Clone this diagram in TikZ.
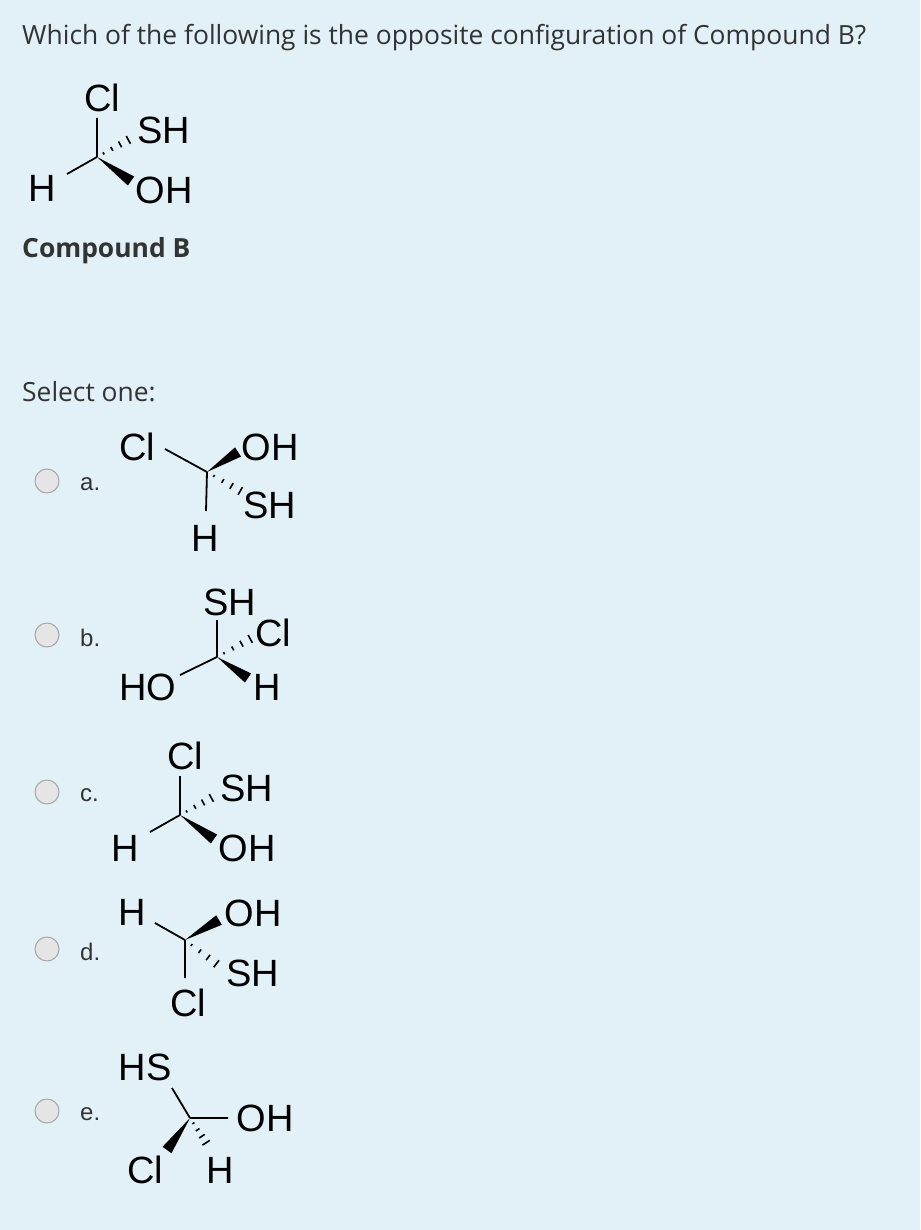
\documentclass[tikz,border=0pt]{standalone}
\usepackage{fontspec}
\setmainfont{Open Sans}
\newfontfamily\arial{Liberation Sans}
\usetikzlibrary{calc}
\definecolor{bg}{HTML}{E1F1F7}
\definecolor{tx}{HTML}{333333}
\newcommand\wdg[2]{\fill ($(#1)$) -- ($(#2)!5.5pt!90:(#1)$) -- ($(#2)!5.5pt!-90:(#1)$) -- cycle;}
\newcommand\hsh[2]{\foreach \t/\w in {0.2/1.2,0.45/2.2,0.7/3.3,0.95/4.4}{\draw[line width=1.6pt] ($(#1)!\t!(#2)!\w pt!90:(#2)$) -- ($(#1)!\t!(#2)!\w pt!-90:(#2)$);}}
\begin{document}
\begin{tikzpicture}[x=1pt,y=-1pt,
  lab/.style={font=\arial\fontsize{38}{38}\selectfont,inner sep=0pt,text=black},
  q/.style={font=\fontsize{26.4}{30}\selectfont,text=tx,anchor=west,inner sep=0pt},
  opt/.style={font=\arial\fontsize{24}{26}\selectfont,text=tx,anchor=west,inner sep=0pt},
  radio/.style={circle,draw=gray!70,fill=gray!20,line width=1pt,minimum size=24pt,inner sep=0pt},
  bond/.style={line width=1.8pt}]
\fill[bg] (0,0) rectangle (920,1230);
\useasboundingbox (0,0) rectangle (920,1230);
\node[q] (qt) at (22,38) {Which of the following is the opposite configuration of Compound B?};
\node[q,font=\bfseries\fontsize{26.4}{30}\selectfont] (cb) at (22,251) {Compound B};
\node[q] (sel) at (22,392) {Select one:};
% Compound B
\coordinate (B) at (97,157);
\node[lab] (bcl) at (102,98) {Cl};
\node[lab] (bsh) at (164,130) {SH};
\node[lab] (bh) at (42,188) {H};
\node[lab] (boh) at (164,190) {OH};
\draw[bond] (B) -- (97,118) (B) -- (67,174);
\hsh{B}{130,139}
\wdg{B}{131,181}
% radios
\foreach \n/\y/\l in {ra/481/a.,rb/635/b.,rc/792/c.,rd/949/d.,re/1111/e.}{
  \node[radio] (\n) at (47,\y) {};
  \node[opt] (\n l) at (80,\y+3) {\l};}
% a
\coordinate (A) at (207,472);
\node[lab] (acl) at (137,447) {Cl};
\node[lab] (aoh) at (270,447) {OH};
\node[lab] (ash) at (270,505) {SH};
\node[lab] (ah) at (205,538) {H};
\draw[bond] (A) -- (165,449) (A) -- (206,511);
\wdg{A}{238,452}
\hsh{A}{242,492}
% b
\coordinate (Bb) at (217,657);
\node[lab] (bbsh) at (230,602) {SH};
\node[lab] (bbcl) at (273,633) {Cl};
\node[lab] (bbho) at (148,687) {HO};
\node[lab] (bbh) at (267,687) {H};
\draw[bond] (Bb) -- (217,620) (Bb) -- (180,675);
\hsh{Bb}{252,638}
\wdg{Bb}{248,678}
% c
\coordinate (C) at (180,815);
\node[lab] (ccl) at (185,756) {Cl};
\node[lab] (csh) at (247,788) {SH};
\node[lab] (ch) at (125,848) {H};
\node[lab] (coh) at (247,848) {OH};
\draw[bond] (C) -- (180,776) (C) -- (150,832);
\hsh{C}{213,797}
\wdg{C}{214,839}
% d
\coordinate (D) at (185,940);
\node[lab] (dh) at (132,912) {H};
\node[lab] (doh) at (253,913) {OH};
\node[lab] (dsh) at (253,973) {SH};
\node[lab] (dcl) at (188,1003) {Cl};
\draw[bond] (D) -- (155,923) (D) -- (185,978);
\wdg{D}{219,920}
\hsh{D}{218,965}
% e
\coordinate (E) at (190,1118);
\node[lab] (ehs) at (145,1067) {HS};
\node[lab] (eoh) at (265,1118) {OH};
\node[lab] (ecl) at (145,1170) {Cl};
\node[lab] (eh) at (220,1170) {H};
\draw[bond] (E) -- (172,1088) (E) -- (228,1118);
\wdg{E}{167,1150}
\hsh{E}{207,1144}
\end{tikzpicture}
\end{document}
